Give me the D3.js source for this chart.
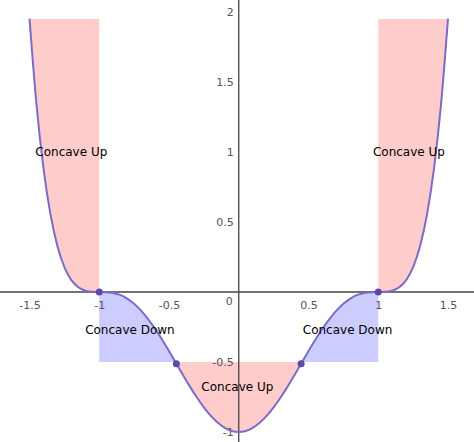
<!DOCTYPE html>
<html>
<head>
<meta charset="utf-8">
<script src="https://cdn.jsdelivr.net/npm/d3@7"></script>
<style>
  body { margin: 0; background: #fff; }
  svg { display: block; }
</style>
</head>
<body>
<svg id="chart" width="474" height="442"></svg>
<script>
/* curve points, right half (mirrored for the left) */
const halfX = [0, 0.05, 0.1, 0.15, 0.2, 0.25, 0.3, 0.35, 0.4, 0.45, 0.5, 0.55, 0.6, 0.65, 0.7, 0.75, 0.8, 0.85, 0.9, 0.95, 1, 1.05, 1.1, 1.15, 1.2, 1.25, 1.3, 1.35, 1.4, 1.45, 1.5];
const halfY = [-1, -0.993, -0.97, -0.934, -0.885, -0.824, -0.754, -0.676, -0.593, -0.507, -0.422, -0.339, -0.262, -0.193, -0.133, -0.084, -0.047, -0.021, -0.007, -0.001, 0, 0.001, 0.009, 0.034, 0.085, 0.178, 0.329, 0.556, 0.885, 1.34, 1.953];
const inflectionPoints = [[-1, 0], [-0.447, -0.512], [0.447, -0.512], [1, 0]];
const xTicks = [-1.5, -1, -0.5, 0.5, 1, 1.5];
const yTicks = [-1, -0.5, 0.5, 1, 1.5, 2];
const regions = [
  { from: -1.5, to: -1, edge: 1.95, kind: "up" },
  { from: -1, to: -0.45, edge: -0.5, kind: "down" },
  { from: -0.45, to: 0.45, edge: -0.5, kind: "up" },
  { from: 0.45, to: 1, edge: -0.5, kind: "down" },
  { from: 1, to: 1.5, edge: 1.95, kind: "up" }
];
const labels = [
  { text: "Concave Up", x: -1.2, y: 1.0 },
  { text: "Concave Up", x: 1.22, y: 1.0 },
  { text: "Concave Down", x: -0.78, y: -0.27 },
  { text: "Concave Down", x: 0.78, y: -0.27 },
  { text: "Concave Up", x: -0.01, y: -0.68 }
];

const curve = [];
for (let i = halfX.length - 1; i > 0; i--) curve.push([-halfX[i], halfY[i]]);
for (let i = 0; i < halfX.length; i++) curve.push([halfX[i], halfY[i]]);

const svg = d3.select("#chart");
const width = +svg.attr("width");
const height = +svg.attr("height");

const x = d3.scaleLinear().domain([-1.5, 1.5]).range([29.5, 448]);
const y = d3.scaleLinear().domain([-1, 2]).range([432, 12]);

/* shaded regions between the curve and a level */
regions.forEach((r) => {
  const pts = curve.filter((d) => d[0] >= r.from - 1e-9 && d[0] <= r.to + 1e-9);
  const clampY = (v) => {
    if (r.edge > 0) return Math.min(v, r.edge);
    return r.kind === "down" ? Math.max(v, r.edge) : Math.min(v, r.edge);
  };
  const area = d3.area()
    .x((d) => x(d[0]))
    .y0((d) => y(clampY(d[1])))
    .y1(y(r.edge))
    .curve(d3.curveMonotoneX);
  svg.append("path")
    .datum(pts)
    .attr("d", area)
    .attr("fill", r.kind === "up" ? "#ffcccc" : "#ccccff");
});

/* axes */
svg.append("line")
  .attr("x1", 0).attr("x2", width)
  .attr("y1", y(0)).attr("y2", y(0))
  .attr("stroke", "#444").attr("stroke-width", 1.3);
svg.append("line")
  .attr("x1", x(0)).attr("x2", x(0))
  .attr("y1", 0).attr("y2", height)
  .attr("stroke", "#444").attr("stroke-width", 1.3);

const xAxis = d3.axisBottom(x).tickValues(xTicks).tickSize(0).tickPadding(9)
  .tickFormat((d) => d);
const gx = svg.append("g").attr("transform", `translate(0, ${y(0)})`).call(xAxis);
gx.select(".domain").remove();

const yAxis = d3.axisLeft(y).tickValues(yTicks).tickSize(0).tickPadding(5)
  .tickFormat((d) => d);
const gy = svg.append("g").attr("transform", `translate(${x(0)}, 0)`).call(yAxis);
gy.select(".domain").remove();

svg.selectAll(".tick text")
  .style("font-family", "'DejaVu Sans', sans-serif")
  .style("font-size", "11px")
  .attr("fill", "#555");

svg.append("text")
  .attr("x", x(0) - 6).attr("y", y(0) + 13)
  .attr("text-anchor", "end")
  .style("font-family", "'DejaVu Sans', sans-serif")
  .style("font-size", "11px")
  .attr("fill", "#555")
  .text("0");

/* the curve itself */
const line = d3.line()
  .x((d) => x(d[0]))
  .y((d) => y(d[1]))
  .curve(d3.curveMonotoneX);
svg.append("path")
  .datum(curve.filter((d) => Math.abs(d[0]) <= 1.49 || true))
  .attr("d", line)
  .attr("fill", "none")
  .attr("stroke", "#7b6cc9")
  .attr("stroke-width", 2);

svg.selectAll("circle.pt")
  .data(inflectionPoints)
  .enter()
  .append("circle")
  .attr("class", "pt")
  .attr("cx", (d) => x(d[0]))
  .attr("cy", (d) => y(d[1]))
  .attr("r", 3.5)
  .attr("fill", "#5b48a8");

svg.selectAll("text.lbl")
  .data(labels)
  .enter()
  .append("text")
  .attr("class", "lbl")
  .attr("x", (d) => x(d.x))
  .attr("y", (d) => y(d.y))
  .attr("dy", "0.35em")
  .attr("text-anchor", "middle")
  .style("font-family", "'DejaVu Sans', sans-serif")
  .style("font-size", "12px")
  .attr("fill", "#000")
  .text((d) => d.text);
</script>
</body>
</html>
